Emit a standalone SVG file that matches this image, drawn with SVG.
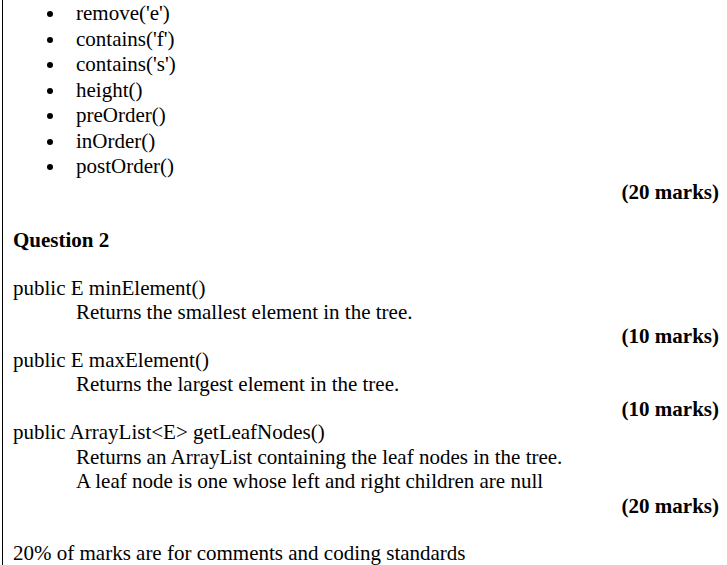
<svg xmlns="http://www.w3.org/2000/svg" width="727" height="565" viewBox="0 0 727 565">
<style>
text{font-family:"Liberation Serif","Times New Roman",serif;font-size:21px;fill:#000}
.b{font-weight:bold}
.r{text-anchor:end;font-weight:bold}
</style>
<rect width="727" height="565" fill="#fff"/>
<line x1="2.5" y1="0" x2="2.5" y2="565" stroke="#000" stroke-width="1"/>
<g id="bullets">
<circle cx="50" cy="14" r="3"/><text x="76" y="20">remove('e')</text>
<circle cx="50" cy="40" r="3"/><text x="76" y="46">contains('f')</text>
<circle cx="50" cy="65" r="3"/><text x="76" y="71">contains('s')</text>
<circle cx="50" cy="91" r="3"/><text x="76" y="97">height()</text>
<circle cx="50" cy="116" r="3"/><text x="76" y="122">preOrder()</text>
<circle cx="50" cy="142" r="3"/><text x="76" y="148">inOrder()</text>
<circle cx="50" cy="167" r="3"/><text x="76" y="173">postOrder()</text>
</g>
<text class="r" x="719" y="199">(20 marks)</text>
<text class="b" x="13" y="247">Question 2</text>
<text x="13" y="295">public E minElement()</text>
<text x="76" y="319">Returns the smallest element in the tree.</text>
<text class="r" x="719" y="343">(10 marks)</text>
<text x="13" y="367">public E maxElement()</text>
<text x="76" y="391">Returns the largest element in the tree.</text>
<text class="r" x="719" y="416">(10 marks)</text>
<text x="13" y="439">public ArrayList&lt;E&gt; getLeafNodes()</text>
<text x="76" y="464">Returns an ArrayList containing the leaf nodes in the tree.</text>
<text x="76" y="488">A leaf node is one whose left and right children are null</text>
<text class="r" x="719" y="513">(20 marks)</text>
<text x="13" y="560">20% of marks are for comments and coding standards</text>
</svg>
